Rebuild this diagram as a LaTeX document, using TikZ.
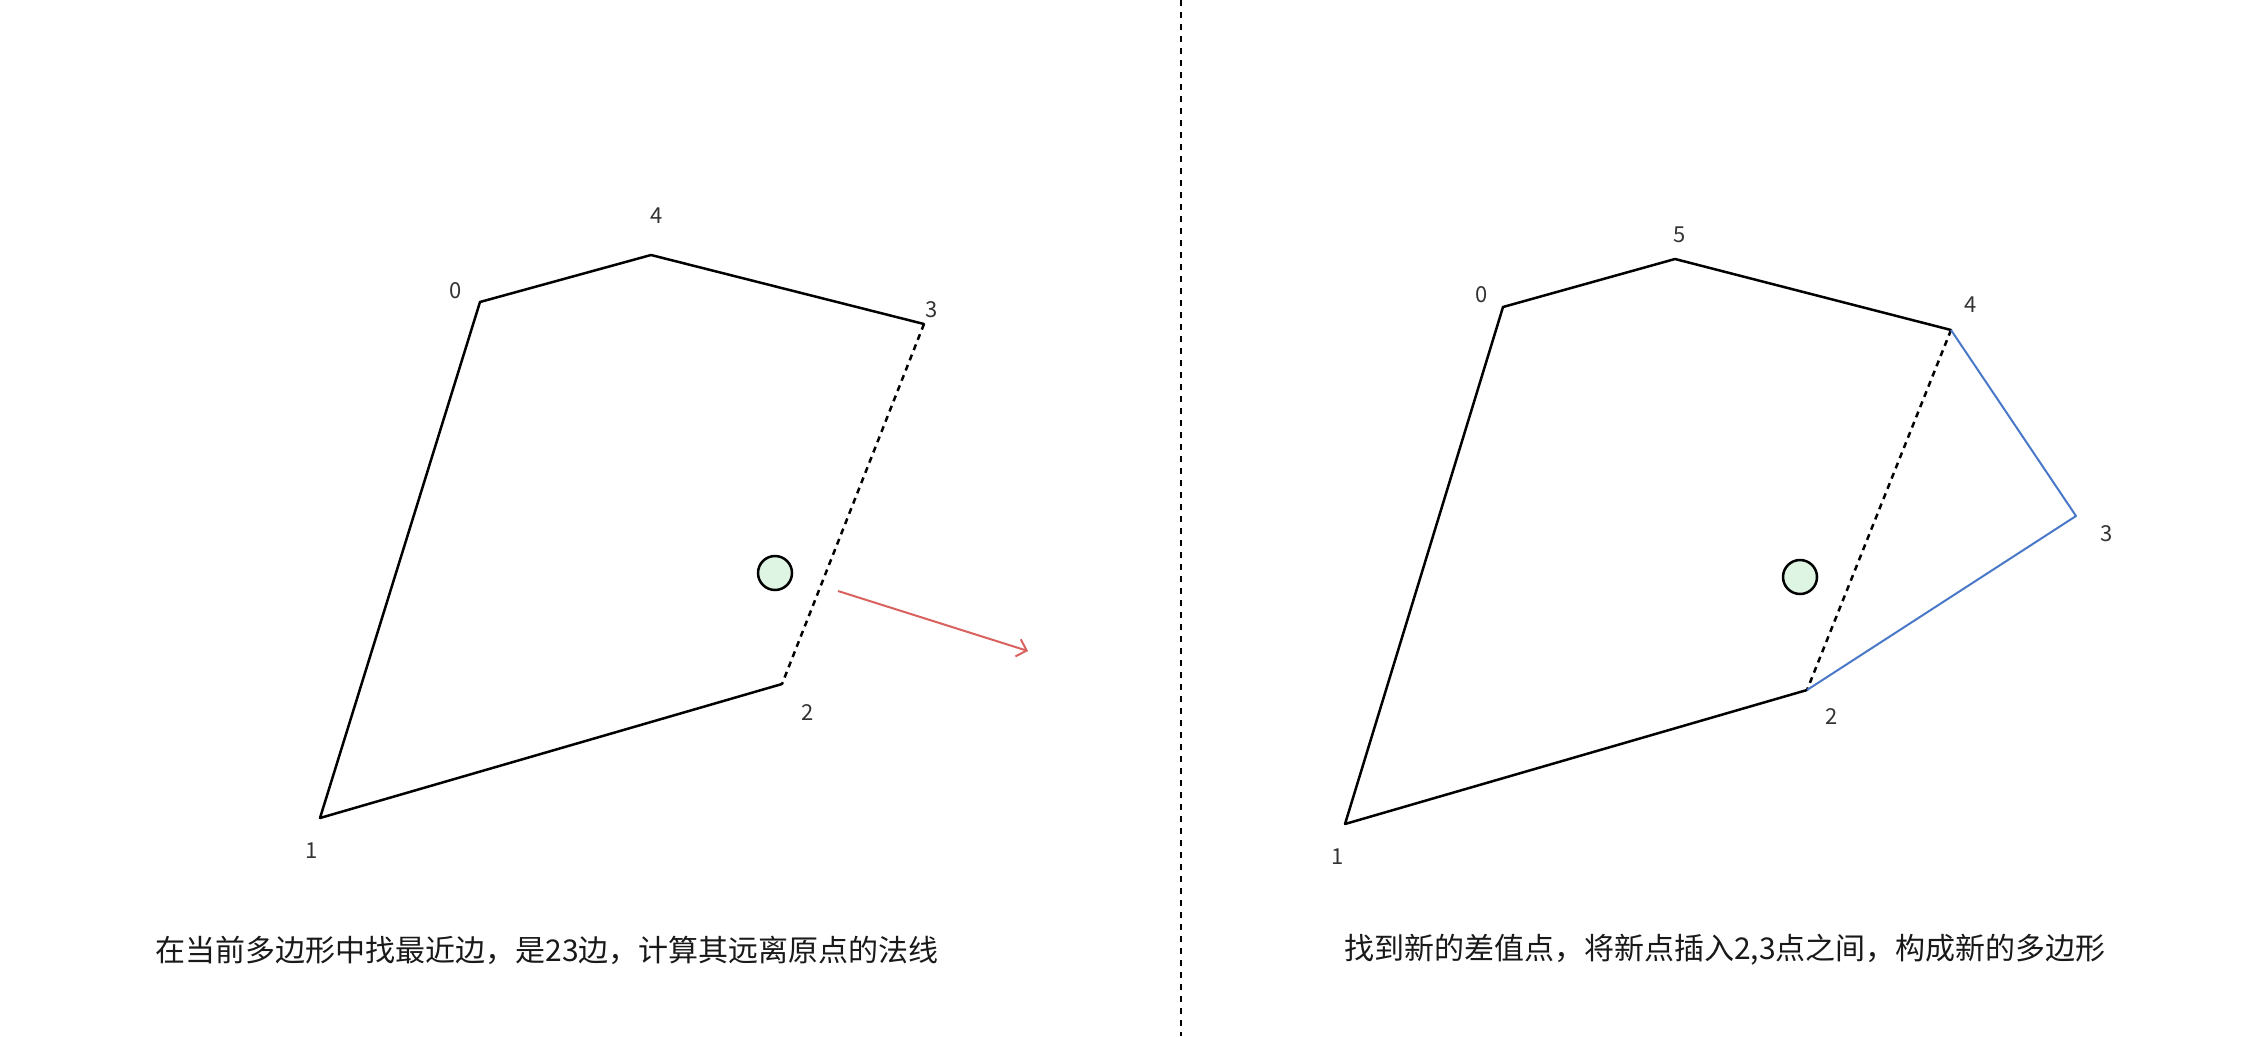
\documentclass[tikz,border=0pt]{standalone}
\usepackage{fontspec}
\setmainfont{Noto Sans CJK SC}
\usetikzlibrary{arrows.meta}

\definecolor{normalred}{HTML}{D9625F}
\definecolor{newblue}{HTML}{4A78C8}
\definecolor{origingreen}{HTML}{DFF5E3}
\definecolor{labelgray}{HTML}{333333}

\tikzset{
	edge/.style={line width=2.5pt, line join=round, line cap=round},
	closest/.style={edge, dash pattern=on 6pt off 5pt, line cap=butt},
	newedge/.style={line width=2pt, newblue, line join=round},
	normal/.style={line width=2pt, normalred, -{Straight Barb[length=9pt,width=18pt,line width=2pt]}},
	origin/.style={circle, draw, line width=2.5pt, fill=origingreen, minimum size=34pt, inner sep=0pt},
	vlabel/.style={text=labelgray, font=\fontsize{22}{26}\selectfont, inner sep=0pt},
	caption/.style={text=black!90, font=\fontsize{30}{36}\selectfont, inner sep=0pt},
	divider/.style={line width=2pt, dash pattern=on 6pt off 6pt}
}

\begin{document}
\begin{tikzpicture}[x=1pt, y=-1pt]
	\useasboundingbox (0,0) rectangle (2258,1036);
	% left: current polygon
	\coordinate (a0) at (480,302);
	\coordinate (a1) at (320,818);
	\coordinate (a2) at (782,684);
	\coordinate (a3) at (924,324);
	\coordinate (a4) at (651,255);
	\node[vlabel] (l0) at (456,291) {0};
	\node[vlabel] (l1) at (312,851) {1};
	\node[vlabel] (l2) at (808,713) {2};
	\node[vlabel] (l3) at (932,310) {3};
	\node[vlabel] (l4) at (657,216) {4};
	\draw[edge] (a2) -- (a1) -- (a0) -- (a4) -- (a3);
	\draw[closest] (a3) -- (a2);
	\node[origin] (oa) at (775,573) {};
	\coordinate (n0) at (838,591);
	\coordinate (n1) at (1028,651);
	\draw[normal] (n0) -- (n1);
	\node[caption] (ca) at (547,950) {在当前多边形中找最近边，是23边，计算其远离原点的法线};

	% divider
	\coordinate (d0) at (1181,0);
	\coordinate (d1) at (1181,1036);
	\draw[divider] (d0) -- (d1);

	% right: expanded polygon
	\coordinate (b0) at (1503,307);
	\coordinate (b1) at (1345,824);
	\coordinate (b2) at (1807,690);
	\coordinate (b3) at (2076,516);
	\coordinate (b4) at (1951,330);
	\coordinate (b5) at (1675,259);
	\node[vlabel] (m0) at (1482,295) {0};
	\node[vlabel] (m1) at (1338,857) {1};
	\node[vlabel] (m2) at (1832,717) {2};
	\node[vlabel] (m3) at (2107,534) {3};
	\node[vlabel] (m4) at (1971,305) {4};
	\node[vlabel] (m5) at (1680,235) {5};
	\draw[edge] (b2) -- (b1) -- (b0) -- (b5) -- (b4);
	\draw[closest] (b4) -- (b2);
	\draw[newedge] (b4) -- (b3) -- (b2);
	\node[origin] (ob) at (1800,577) {};
	\node[caption] (cb) at (1725,950) {找到新的差值点，将新点插入2,3点之间，构成新的多边形};
\end{tikzpicture}
\end{document}
